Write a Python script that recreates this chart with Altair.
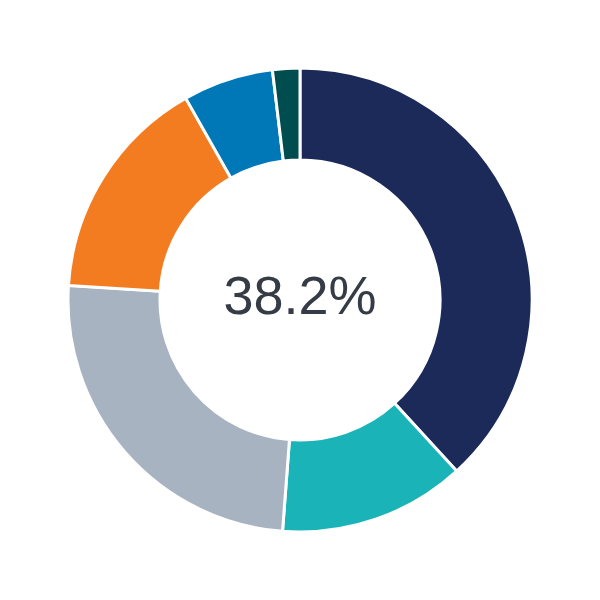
import altair as alt
import pandas as pd

segments = ["A", "B", "C", "D", "E", "F"]
shares = [38.2, 13.0, 24.8, 15.8, 6.3, 1.9]
colors = ["#1b2a59", "#1ab4b8", "#a8b3c1", "#f47c20", "#0077b6", "#004d50"]
center_label = "38.2%"

df = pd.DataFrame({
    "segment": segments,
    "share": shares,
    "rank": list(range(len(segments))),
})

donut = (
    alt.Chart(df)
    .mark_arc(outerRadius=232, innerRadius=140, stroke="white", strokeWidth=3)
    .encode(
        theta=alt.Theta("share:Q", stack=True),
        order=alt.Order("rank:Q"),
        color=alt.Color(
            "segment:N",
            scale=alt.Scale(domain=segments, range=colors),
            legend=None,
        ),
    )
)

label = (
    alt.Chart(pd.DataFrame({"label": [center_label]}))
    .mark_text(
        font="Liberation Sans",
        fontSize=54,
        color="#353c46",
        align="center",
        baseline="middle",
    )
    .encode(
        text="label:N",
        x=alt.value(292),
        y=alt.value(290),
    )
)

chart = (
    alt.layer(donut, label)
    .properties(width=584, height=584, padding=0, autosize="none")
    .configure_view(stroke=None)
)

chart.save("out.html", embed_options={"renderer": "svg", "actions": False})
